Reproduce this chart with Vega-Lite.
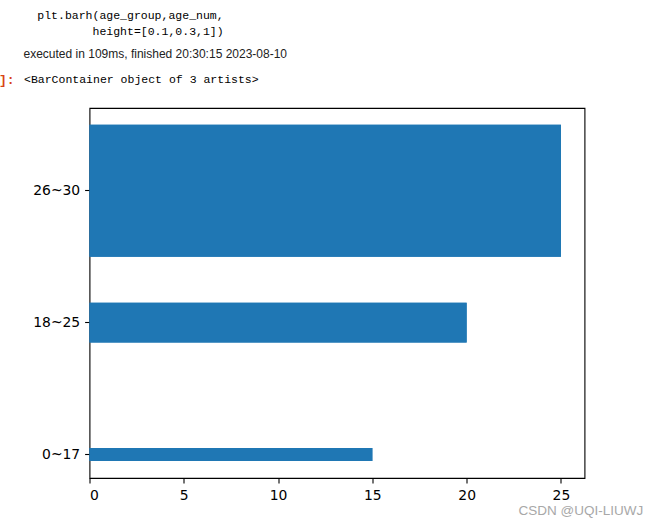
{
  "$schema": "https://vega.github.io/schema/vega-lite/v6.json",
  "width": 495,
  "height": 370,
  "autosize": {"type": "none"},
  "padding": {"left": 89.5, "top": 108, "right": 71.5, "bottom": 50},
  "background": "white",
  "config": {
    "view": {"stroke": "black", "strokeWidth": 1.1},
    "axis": {
      "grid": false,
      "domain": false,
      "ticks": true,
      "tickSize": 4.9,
      "tickWidth": 1.1,
      "tickColor": "black",
      "labelFont": "DejaVu Sans",
      "labelFontSize": 13.9,
      "labelColor": "black"
    }
  },
  "title": {
    "text": ["\u200b\u00a0\u00a0plt.barh(age_group,age_num,", "\u200b\u00a0\u00a0\u00a0\u00a0\u00a0\u00a0\u00a0\u00a0\u00a0\u00a0height=[0.1,0.3,1])"],
    "subtitle": "executed in 109ms, finished 20:30:15 2023-08-10",
    "anchor": "start",
    "frame": "group",
    "dx": -66,
    "offset": 13,
    "font": "Liberation Mono",
    "fontSize": 11.5,
    "fontWeight": "normal",
    "color": "black",
    "lineHeight": 16.5,
    "subtitleFont": "Liberation Sans",
    "subtitleFontSize": 12,
    "subtitleColor": "#222222",
    "subtitlePadding": 11.5
  },
  "data": {
    "values": [
      {"age_group": "0~17", "age_num": 15, "height": 0.1},
      {"age_group": "18~25", "age_num": 20, "height": 0.3},
      {"age_group": "26~30", "age_num": 25, "height": 1}
    ]
  },
  "layer": [
    {
      "mark": {"type": "bar", "color": "#1f77b4"},
      "encoding": {
        "y": {
          "field": "age_group",
          "type": "nominal",
          "sort": ["26~30", "18~25", "0~17"],
          "scale": {"type": "band", "range": [16.75, 412.45], "paddingInner": 0, "paddingOuter": 0},
          "axis": {
            "orient": "left",
            "labelPadding": 4.9,
            "title": "<BarContainer object of 3 artists>",
            "titleAngle": 0,
            "titleX": -66,
            "titleY": -29,
            "titleAlign": "left",
            "titleBaseline": "middle",
            "titleFont": "Liberation Mono",
            "titleFontSize": 11.5,
            "titleFontWeight": "normal",
            "titleColor": "black"
          }
        },
        "x": {
          "field": "age_num",
          "type": "quantitative",
          "scale": {"domain": [0, 26.25], "nice": false, "zero": true},
          "axis": {
            "values": [0, 5, 10, 15, 20, 25],
            "labelPadding": 6,
            "title": "CSDN @UQI-LIUWJ",
            "titleX": 428.5,
            "titleY": 32,
            "titleAlign": "left",
            "titleBaseline": "middle",
            "titleFont": "Liberation Sans",
            "titleFontSize": 13.5,
            "titleFontWeight": "normal",
            "titleColor": "#a8a8a8"
          }
        },
        "size": {"field": "height", "type": "quantitative", "scale": {"domain": [0, 1], "range": [0, 131.9]}, "legend": null}
      }
    },
    {
      "mark": {"type": "bar", "color": "#1f77b4"},
      "encoding": {
        "y": {
          "field": "age_group",
          "type": "nominal",
          "sort": ["26~30", "18~25", "0~17"],
          "axis": {
            "orient": "right",
            "labels": false,
            "ticks": false,
            "title": "]:",
            "titleAngle": 0,
            "titleX": -586,
            "titleY": -29,
            "titleAlign": "left",
            "titleBaseline": "middle",
            "titleFont": "Liberation Mono",
            "titleFontSize": 13,
            "titleFontWeight": "bold",
            "titleColor": "#d84315"
          }
        },
        "x": {"field": "age_num", "type": "quantitative"},
        "size": {"field": "height", "type": "quantitative", "legend": null}
      }
    }
  ],
  "resolve": {"axis": {"y": "independent"}}
}
